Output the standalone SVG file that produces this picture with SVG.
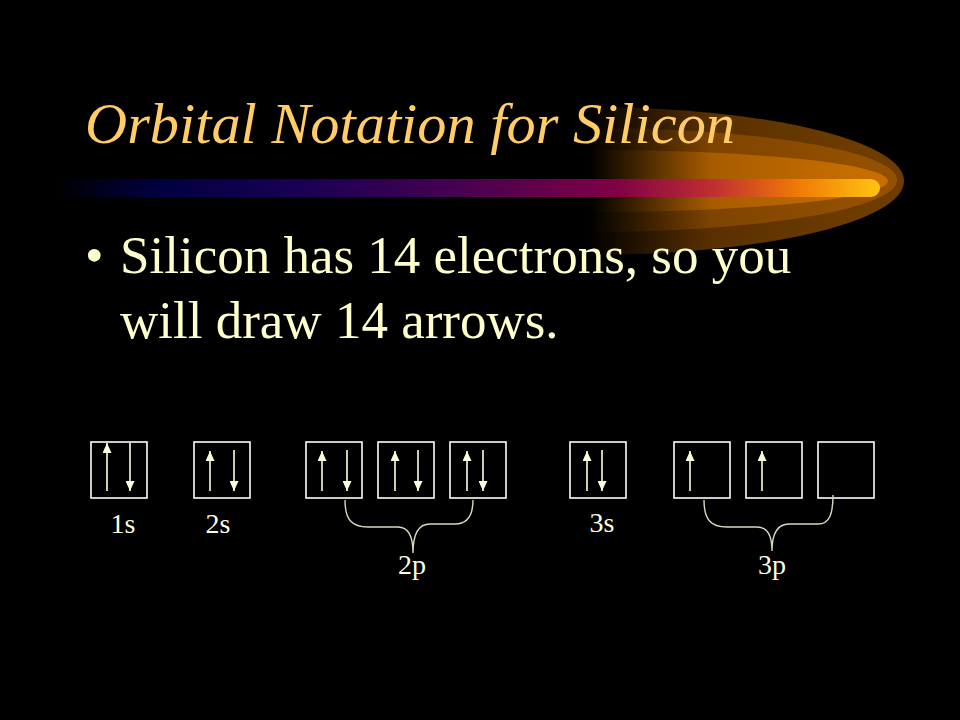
<svg xmlns="http://www.w3.org/2000/svg" width="960" height="720" viewBox="0 0 960 720">
<defs>
<style>
.box{fill:none;stroke:#ffffff;stroke-width:1.6}
.arr{stroke:#ffffdd;stroke-width:1.6;fill:none;marker-end:url(#ah)}
.brace{fill:none;stroke:#d8d8c0;stroke-width:1.4}
.lbl{font-family:"Liberation Serif","Times New Roman",serif;font-size:28px;fill:#ffffe0;text-anchor:middle}
.body{font-family:"Liberation Serif","Times New Roman",serif;font-size:53px;fill:#ffffcc}
</style>
<marker id="ah" markerUnits="userSpaceOnUse" markerWidth="11" markerHeight="9" refX="10" refY="4.5" orient="auto">
<path d="M0,0 L10,4.5 L0,9 z" fill="#ffffdd"/>
</marker>
<linearGradient id="bar" x1="55" y1="0" x2="880" y2="0" gradientUnits="userSpaceOnUse">
<stop offset="0" stop-color="#000000"/>
<stop offset="0.12" stop-color="#000040"/>
<stop offset="0.3" stop-color="#1a0055"/>
<stop offset="0.5" stop-color="#4a0050"/>
<stop offset="0.68" stop-color="#800045"/>
<stop offset="0.8" stop-color="#c03030"/>
<stop offset="0.9" stop-color="#f07a05"/>
<stop offset="1" stop-color="#ffc412"/>
</linearGradient>
<linearGradient id="g1" x1="590" y1="0" x2="860" y2="0" gradientUnits="userSpaceOnUse">
<stop offset="0" stop-color="#000000"/>
<stop offset="0.45" stop-color="#5a3000"/>
<stop offset="1" stop-color="#6e3c00"/>
</linearGradient>
<linearGradient id="g2" x1="590" y1="0" x2="860" y2="0" gradientUnits="userSpaceOnUse">
<stop offset="0" stop-color="#000000"/>
<stop offset="0.45" stop-color="#7e4400"/>
<stop offset="1" stop-color="#945000"/>
</linearGradient>
<linearGradient id="g3" x1="590" y1="0" x2="860" y2="0" gradientUnits="userSpaceOnUse">
<stop offset="0" stop-color="#000000"/>
<stop offset="0.45" stop-color="#a85c00"/>
<stop offset="1" stop-color="#c86e00"/>
</linearGradient>
<clipPath id="cl"><rect x="590" y="90" width="340" height="190"/></clipPath>
</defs>
<rect width="960" height="720" fill="#000000"/>
<g id="glow" clip-path="url(#cl)">
<ellipse cx="590" cy="181" rx="314" ry="74" fill="url(#g1)"/>
<ellipse cx="590" cy="180" rx="307" ry="52" fill="url(#g2)"/>
<ellipse cx="590" cy="181" rx="298" ry="31" fill="url(#g3)"/>
</g>
<rect id="bar-line" x="55" y="179" width="825" height="18" rx="9" fill="url(#bar)"/>
<text id="title" x="85" y="143" font-family="'Liberation Serif','Times New Roman',serif" font-style="italic" font-size="58" fill="#ffcc66" textLength="650" lengthAdjust="spacingAndGlyphs">Orbital Notation for Silicon</text>
<g id="bullet">
<text class="body" x="85" y="273">•</text>
<text class="body" x="120" y="273">Silicon has 14 electrons, so you</text>
<text class="body" x="120" y="338">will draw 14 arrows.</text>
</g>
<g id="orb-1s">
<rect class="box" x="91" y="442" width="56" height="56"/>
<line class="arr" x1="107" y1="491" x2="107" y2="443"/>
<line class="arr" x1="130" y1="443" x2="130" y2="491"/>
<text class="lbl" x="123" y="533">1s</text>
</g>
<g id="orb-2s">
<rect class="box" x="194" y="442" width="56" height="56"/>
<line class="arr" x1="210" y1="491" x2="210" y2="451"/>
<line class="arr" x1="234" y1="450" x2="234" y2="491"/>
<text class="lbl" x="218" y="533">2s</text>
</g>
<g id="orb-2p">
<rect class="box" x="306" y="442" width="56" height="56"/>
<rect class="box" x="378" y="442" width="56" height="56"/>
<rect class="box" x="450" y="442" width="56" height="56"/>
<line class="arr" x1="322" y1="491" x2="322" y2="451"/>
<line class="arr" x1="347" y1="450" x2="347" y2="491"/>
<line class="arr" x1="395" y1="491" x2="395" y2="451"/>
<line class="arr" x1="418" y1="450" x2="418" y2="491"/>
<line class="arr" x1="467" y1="491" x2="467" y2="451"/>
<line class="arr" x1="483" y1="450" x2="483" y2="491"/>
<text class="lbl" x="412" y="574">2p</text>
</g>
<g id="orb-3s">
<rect class="box" x="570" y="442" width="56" height="56"/>
<line class="arr" x1="587" y1="491" x2="587" y2="451"/>
<line class="arr" x1="602" y1="450" x2="602" y2="491"/>
<text class="lbl" x="602" y="532">3s</text>
</g>
<g id="orb-3p">
<rect class="box" x="674" y="442" width="56" height="56"/>
<rect class="box" x="746" y="442" width="56" height="56"/>
<rect class="box" x="818" y="442" width="56" height="56"/>
<line class="arr" x1="690" y1="491" x2="690" y2="451"/>
<line class="arr" x1="762" y1="491" x2="762" y2="451"/>
<text class="lbl" x="772" y="574">3p</text>
</g>
<g id="connectors">
<path class="brace" d="M345,500 C345,520 352,527 368,527 L398,527 C408,527 413,535 413,553 C413,535 418,524 430,524 L455,524 C468,524 473,515 473,500"/>
<path class="brace" d="M704,500 C704,520 711,527 727,527 L757,527 C767,527 772,535 772,551 C772,535 777,524 789,524 L818,524 C830,524 833,513 833,495"/>
</g>
</svg>
